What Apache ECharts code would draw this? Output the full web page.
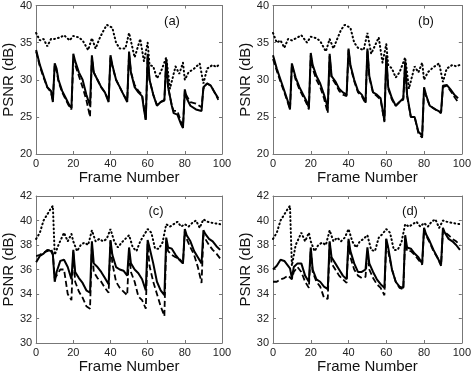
<!DOCTYPE html>
<html><head><meta charset="utf-8">
<script src="https://cdn.jsdelivr.net/npm/echarts@6/dist/echarts.min.js"></script>
<style>html,body{margin:0;padding:0;background:#fff}#c{width:474px;height:375px}</style>
</head><body><div id="c"></div>
<script>
// Panel labels and axis text
const panelLabels = ['(a)', '(b)', '(c)', '(d)'];
const xTicks = [0, 20, 40, 60, 80, 100];
const yTicksTop = [20, 25, 30, 35, 40];
const yTicksBottom = [30, 32, 34, 36, 38, 40, 42];

// Panel (a): [frame, PSNR]
const aDotted = [[0,36.3],[2,35.3],[4,35.5],[6,34.5],[8,35.5],[10,35.5],[13,35.7],[15,36],[18,35.3],[20,35.9],[23,35.7],[25,35.3],[28,34],[30,35.6],[32,34.2],[34,35.5],[36,36.5],[38,37.4],[41,37],[43,35],[45,34.2],[48,34.2],[50,36.3],[53,33],[56,35.5],[58,32.5],[60,35],[61,32],[63,31.8],[65,30.2],[67,31],[70,33],[72,28.8],[75,31.8],[77,30.8],[79,32.3],[80,30],[82,31],[85,31.5],[88,32.2],[90,29.5],[92,31.5],[95,32],[97,31.7],[99,32.2]];
const aDashed = [[0,33.8],[2,31.8],[4,30.3],[6,29],[8,28.3],[9,27.2],[10,32],[11,31.2],[12,29.8],[14,28.3],[16,27.3],[18,26.3],[19,26],[20,32.5],[21,32],[23,30.5],[25,29],[27,27.3],[29,25],[30,33],[31,31],[33,30],[35,29],[37,28.3],[39,27.2],[40,33],[41,31.8],[43,30],[45,29],[47,28],[49,27.2],[50,33.5],[51,31],[53,29.3],[55,28.5],[57,28],[58,26.3],[59,24.5],[60,33.2],[61,30],[63,28],[65,26.6],[67,27],[69,27.3],[70,32.5],[71,29],[73,26.5],[74,25.8],[76,25.8],[78,24.3],[79,23.7],[80,28.5],[81,27.8],[83,27],[86,26.8],[89,26.3],[90,28.8],[92,29.5],[94,29.2],[96,28.3],[98,27.3]];
const aSolid = [[0,34],[2,32],[4,30.5],[6,29],[8,28.5],[9,27],[10,32.2],[11,31.5],[12,30],[14,28.5],[16,27.5],[18,26.5],[19,26.2],[20,33.5],[21,32.5],[23,31],[25,30],[27,28],[29,26.5],[30,33.3],[31,31],[33,30],[35,29],[37,28.3],[39,27],[40,33.3],[41,32],[43,30],[45,29],[47,28],[49,27],[50,33.8],[51,31],[53,29],[55,28.3],[57,27.8],[58,26],[59,24.6],[60,33.5],[61,30],[63,28],[65,26.5],[67,27],[69,27.2],[70,32.8],[71,29],[73,26.5],[74,25.5],[76,25.3],[78,24],[79,23.5],[80,28.7],[81,27.5],[83,26.5],[86,26],[89,25.8],[90,29],[92,29.5],[94,29.2],[96,28.3],[98,27.5]];

// Panel (b)
const bDotted = [[0,36.3],[2,35],[4,35.3],[6,34.3],[8,35.5],[10,35.3],[13,35.7],[15,36],[18,35],[20,35.8],[23,35.6],[25,35.2],[28,33.8],[30,35.5],[32,34.2],[34,35.5],[36,36.7],[38,37.4],[41,37],[43,35],[45,34.3],[48,34],[50,36.3],[52,33.5],[56,35.7],[58,32.3],[60,34.8],[61,32],[63,31.5],[65,30.3],[67,31],[70,33],[72,28.8],[75,31.8],[77,31],[79,32.3],[80,30],[82,31],[85,31.7],[88,32.2],[90,29.7],[92,31.5],[95,32],[97,31.8],[99,32]];
const bDashed = [[0,32.8],[2,31.2],[4,29.7],[6,28.3],[8,26.8],[9,26],[10,32],[12,30],[14,28.7],[16,27.7],[18,26.7],[19,26],[20,33.3],[21,31.5],[23,30],[25,29],[27,27.5],[29,25.5],[30,33.2],[31,30.3],[33,29.5],[35,28.5],[37,28],[39,27.8],[40,34],[41,31.8],[43,29.8],[45,28.3],[47,27.8],[49,26.8],[50,34],[51,30.3],[53,28.2],[55,27.8],[57,27.3],[59,24.3],[60,33],[61,28.8],[63,27.3],[65,26.5],[67,27],[69,27.3],[70,32.3],[71,27.8],[73,25],[75,25],[77,22.8],[79,22.2],[80,28.8],[81,27.8],[83,26.5],[86,26],[89,25.5],[90,29],[92,29.2],[94,28.5],[96,27.7],[98,27]];
const bSolid = [[0,33.3],[2,31.5],[4,30],[6,28.5],[8,27],[9,26],[10,32.2],[12,30.3],[14,29],[16,28],[18,27],[19,26.2],[20,33.6],[21,32],[23,30.5],[25,29.5],[27,28],[29,26.3],[30,33.5],[31,30.5],[33,29.8],[35,28.8],[37,28.3],[39,28],[40,34.2],[41,32],[43,30],[45,28.5],[47,28],[49,27],[50,34.2],[51,30.5],[53,28.3],[55,28],[57,27.5],[59,24.5],[60,33.3],[61,29],[63,27.5],[65,26.5],[67,27],[69,27.5],[70,32.5],[71,28],[73,25],[75,25],[77,23],[79,22.5],[80,29],[81,28],[83,26.5],[86,26],[89,25.6],[90,29.2],[92,29.3],[94,28.7],[96,28],[98,27.5]];

// Panel (c)
const cDotted = [[0,38.5],[2,39],[4,40],[6,40.5],[8,41],[9,41.2],[10,37.2],[12,38],[15,39],[17,38.3],[19,38.9],[20,38.3],[22,37.5],[24,38],[26,38.2],[28,38],[30,39.2],[32,38.3],[34,38.5],[36,38.3],[38,38.5],[40,39.3],[42,38.3],[44,37.8],[46,38.2],[48,38.5],[50,38.8],[52,37.8],[54,37.5],[56,38.3],[58,38.8],[60,39.3],[62,39],[64,37.7],[66,37.7],[68,38.2],[70,39.7],[72,39.5],[74,39.7],[76,39.9],[78,39.5],[80,39.7],[82,39.5],[84,39.8],[86,40],[88,39.4],[90,40.1],[92,39.9],[95,39.8],[99,39.7]];
const cDashed = [[0,37.1],[2,37.2],[4,37.4],[6,37.5],[8,37.7],[9,37.3],[10,35.3],[11,35.5],[13,36],[15,36],[17,34],[19,33.5],[20,37.5],[21,35],[23,34.2],[25,33.7],[27,33],[29,32.8],[30,38],[31,35.8],[33,35.3],[35,35],[37,34.5],[39,34.1],[40,38.3],[41,36.5],[43,35],[45,34.5],[47,34.2],[49,33.9],[50,37.5],[51,35.8],[53,35],[55,33.8],[57,33.5],[59,32.8],[60,38.1],[61,36.3],[63,35],[65,34],[67,33],[69,32.2],[70,38.3],[71,37.5],[73,37.2],[75,37],[77,36.9],[79,36.5],[80,39.1],[81,38.5],[83,37.8],[85,37.2],[87,36.2],[89,34.9],[90,38.8],[91,38.5],[93,38],[95,37.6],[97,37.3],[99,36.9]];
const cSolid = [[0,36.6],[2,37.1],[4,37.3],[6,37.6],[8,37.5],[9,37.2],[10,35],[11,35.8],[13,36.7],[15,36.8],[17,36.2],[19,35.2],[20,37.6],[21,35.8],[23,35.3],[25,34.9],[27,34.3],[29,34.1],[30,38.3],[31,36.5],[33,36.2],[35,35.8],[37,35.3],[39,34.8],[40,38.4],[41,37.2],[43,36.2],[45,36],[47,35.9],[49,35.5],[50,37.8],[51,36.5],[53,36],[55,35.7],[57,35.2],[59,34.3],[60,38.4],[61,37.8],[63,36.5],[65,35],[67,34.3],[69,33.9],[70,38.6],[71,37.8],[73,37.7],[75,37.2],[77,36.8],[79,36.5],[80,39.3],[81,38.8],[83,38.3],[85,37.5],[87,37],[89,36.5],[90,39.2],[91,38.9],[93,38.5],[95,38.3],[97,37.9],[99,37.6]];

// Panel (d)
const dDotted = [[0,38.5],[2,39],[4,40],[6,40.5],[8,41],[9,41.2],[10,36.3],[12,38],[15,39],[17,38.3],[19,39],[20,38.3],[22,37.5],[24,38],[26,38.2],[28,38],[30,39.2],[32,38.3],[34,38.6],[36,38.3],[38,38.6],[40,39.3],[42,38.3],[44,37.8],[46,38.3],[48,38.5],[50,38.8],[52,37.6],[54,37.5],[56,38.6],[58,38.9],[60,39.3],[62,39],[64,37.6],[66,37.6],[68,38.2],[70,39.7],[72,39.5],[74,39.7],[76,39.9],[78,39.5],[80,39.8],[82,39.5],[84,39.9],[86,40.1],[88,39.4],[90,40],[92,39.9],[95,39.8],[99,39.7]];
const dDashed = [[0,35],[2,35],[4,35.2],[6,35.3],[8,35.5],[9,35.6],[10,35.2],[11,35.8],[13,36.2],[15,35.8],[17,35],[19,34.5],[20,37.7],[21,35.8],[23,35],[25,34.6],[27,33.7],[29,33.6],[30,38.2],[31,36.5],[33,36],[35,35.5],[37,35.2],[39,34.9],[40,38.3],[41,37],[43,36],[45,35.5],[47,35.3],[49,35.4],[50,37.5],[51,36],[53,35.3],[55,34.8],[57,34.5],[59,33.9],[60,38.5],[61,37.5],[63,36],[65,35],[67,34.5],[69,34.4],[70,38.5],[71,37.5],[73,37.5],[75,37.2],[77,36.8],[79,36.4],[80,39.3],[81,38.8],[83,38.2],[85,37.5],[87,37],[89,36.3],[90,39.2],[91,39.1],[93,38.8],[95,38.5],[97,38.3],[99,38]];
const dSolid = [[0,36],[2,36.3],[4,36.8],[6,36.7],[8,36.3],[9,36.1],[10,35.3],[11,36.2],[13,36.5],[15,36.5],[17,35.5],[19,35],[20,37.8],[21,36],[23,35.2],[25,35],[27,34.6],[29,34.4],[30,38.3],[31,37],[33,36.5],[35,36],[37,35.5],[39,35.2],[40,38.5],[41,37.5],[43,36.5],[45,35.8],[47,35.8],[49,36],[50,37.8],[51,36.5],[53,35.8],[55,35.2],[57,34.8],[59,34.5],[60,38.5],[61,37.8],[63,36],[65,35],[67,34.6],[69,34.5],[70,38.8],[71,37.8],[73,37.7],[75,37.3],[77,37],[79,36.5],[80,39.4],[81,38.9],[83,38.3],[85,37.6],[87,37],[89,36.4],[90,39.4],[91,39],[93,38.5],[95,38.3],[97,38],[99,37.6]];

const panelData = [[aDotted,aDashed,aSolid],[bDotted,bDashed,bSolid],[cDotted,cDashed,cSolid],[dDotted,dDashed,dSolid]];

const FONT = 'Liberation Sans';
const grids = [
  {left:30, top:4, width:192, height:150},
  {left:273, top:4, width:193, height:150},
  {left:30, top:196, width:192, height:148},
  {left:273, top:196, width:193, height:148}
];
const yRanges = [[20,40,5],[20,40,5],[30,42,2],[30,42,2]];
const yNameGaps = [19, 13, 19, 13];
const labelPos = [[172,21],[426,21],[156,211],[410,211]];

const xAxis = [], yAxis = [], series = [], graphic = [];
const axisCol = '#777';
grids.forEach((g, i) => {
  const [ymin, ymax, yint] = yRanges[i];
  xAxis.push({
    gridIndex:i, type:'value', min:0, max:100, interval:20, position:'bottom',
    name:'Frame Number', nameLocation:'middle', nameGap:16,
    nameTextStyle:{fontFamily:FONT, fontSize:15, color:'#111'},
    axisLine:{show:true, onZero:false, lineStyle:{color:axisCol, width:1}},
    axisTick:{show:true, inside:true, length:3, lineStyle:{color:axisCol}},
    axisLabel:{fontFamily:FONT, fontSize:11, color:'#222', margin:4,
      formatter: v => xTicks.includes(v) ? String(v) : ''},
    splitLine:{show:false}
  });
  xAxis.push({
    gridIndex:i, type:'value', min:0, max:100, interval:20, position:'top',
    axisLine:{show:true, onZero:false, lineStyle:{color:axisCol, width:1}},
    axisTick:{show:true, inside:true, length:3, lineStyle:{color:axisCol}},
    axisLabel:{show:false}, splitLine:{show:false}
  });
  const yt = i < 2 ? yTicksTop : yTicksBottom;
  yAxis.push({
    gridIndex:i, type:'value', min:ymin, max:ymax, interval:yint, position:'left',
    name:'PSNR (dB)', nameLocation:'middle', nameGap:yNameGaps[i],
    nameTextStyle:{fontFamily:FONT, fontSize:15, color:'#111'},
    axisLine:{show:true, onZero:false, lineStyle:{color:axisCol, width:1}},
    axisTick:{show:true, inside:true, length:3, lineStyle:{color:axisCol}},
    axisLabel:{fontFamily:FONT, fontSize:11, color:'#222', margin:4,
      formatter: v => yt.includes(v) ? String(v) : ''},
    splitLine:{show:false}
  });
  yAxis.push({
    gridIndex:i, type:'value', min:ymin, max:ymax, interval:yint, position:'right',
    axisLine:{show:true, onZero:false, lineStyle:{color:axisCol, width:1}},
    axisTick:{show:true, inside:true, length:3, lineStyle:{color:axisCol}},
    axisLabel:{show:false}, splitLine:{show:false}
  });
  const [dot, dash, sol] = panelData[i];
  const base = {type:'line', xAxisIndex:2*i, yAxisIndex:2*i, showSymbol:false, symbol:'none', animation:false, silent:true};
  series.push(Object.assign({}, base, {data:dot, lineStyle:{color:'#000', width:2, type:[0.8,3.2], cap:'round'}}));
  series.push(Object.assign({}, base, {data:dash, lineStyle:{color:'#000', width:1.8, type:[6,3]}}));
  series.push(Object.assign({}, base, {data:sol, lineStyle:{color:'#000', width:2}}));
  graphic.push({type:'text', x:labelPos[i][0], y:labelPos[i][1],
    style:{text:panelLabels[i], font:'13px ' + FONT, fill:'#111', textAlign:'center', textVerticalAlign:'middle'}});
});

const chart = echarts.init(document.getElementById('c'), null, {renderer:'canvas'});
chart.setOption({
  animation:false,
  backgroundColor:'#fff',
  grid: grids.map(g => Object.assign({containLabel:false}, g)),
  xAxis, yAxis, series, graphic
});
</script></body></html>
